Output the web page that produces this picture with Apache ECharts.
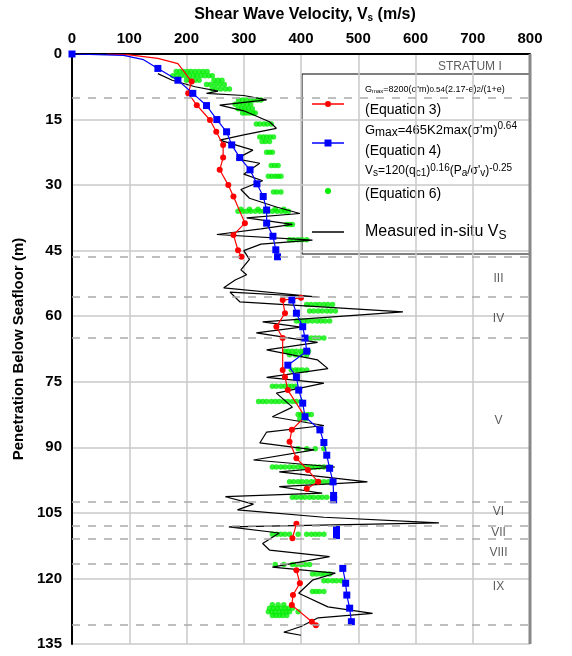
<!DOCTYPE html>
<html>
<head>
<meta charset="utf-8">
<script src="https://cdn.jsdelivr.net/npm/echarts@6/dist/echarts.min.js"></script>
<style>
  html, body { margin: 0; padding: 0; background: #fff; }
  #chart { width: 572px; height: 656px; }
</style>
</head>
<body>
<div id="chart"></div>
<script>
(function() {
  // measured in-situ Vs [velocity, depth]
  var measured = [
    [150,4.5],[175,6],[215,7.5],[255,8.5],[235,9],[300,9.5],[340,10.5],[258,11.7],[300,13],[345,15.5],
    [357,17],[300,18.5],[258,19.7],[316,22],[287,24],[328,25],[300,27.5],[333,29],[295,31],[310,33],
    [357,35],[398,36.5],[305,37.5],[385,39],[330,40],[253,41.3],[420,42.6],[330,43.5],[300,45],[310,47],
    [295,49.4],[305,50.5],[285,51.7],[265,53.5],[430,55.6],[276,54.5],[293,56.7],[578,59],[333,61.3],[400,62.5],
    [322,63.8],[429,66],[340,67.7],[429,70],[447,72],[340,74],[440,75.3],[357,77.6],[385,80.8],[350,83],
    [440,85],[340,86.5],[328,89],[423,90.6],[317,92.9],[459,94.5],[362,95.6],[516,97.9],[362,99],[437,100.5],
    [268,101.3],[317,103],[289,104.3],[440,106],[641,107.3],[274,108.2],[362,109.6],[333,112],[345,113.5],[450,115],
    [350,117.4],[460,118.8],[420,120.4],[396,123.4],[447,126.5],[525,128],[430,129],[400,131],[370,132.3],[400,133]
  ];
  // Equation 3 (red); entries without marker are plain curve points
  var eq3Curve = [[60,0],[100,0.2],[150,1],[185,2.2]];
  var eq3 = [
    [209,6.3],[203,9],[218,11.7],[241,15.1],[252,17.8],[264,20.8],
    [264,23.7],[258,26.5],[273,30],[282,32.6],[302,38.7],[282,41.4],[290,44.9],[296,46.4],'-',
    [400,55.8],[368,56.3],[372,59.3],[357,62.4],[368,65],[368,72.3],[372,73.9],[377,76.9],[407,83],[384,86],
    [380,88.7],[392,92.5],[412,95.2],[430,97.9],[410,99.5],'-',
    [392,107.5],[385,110.8],'-',
    [392,118.1],[398,121.1],[386,123.8],[384,126.1],[419,129.9],[426,130.7]
  ];
  // Equation 4 (blue)
  var eq4Curve = [[90,0.3],[125,1.3]];
  var eq4 = [
    [150,3.3],[185,6],[211,9],[235,11.8],[253,15],[270,17.8],[279,20.8],
    [293,23.7],[311,26.5],[323,29.7],[334,32.6],[340,35.7],[340,38.7],[351,41.7],[356,44.8],[359,46.4],'-',
    [384,56.3],[392,59.3],[403,62.4],[407,65],[410,68],[377,71.2],[392,73.9],[396,76.9],[403,79.9],[407,83],
    [433,86],[440,88.9],[445,91.8],[450,94.8],[456,97.9],[457,101],[457,102],'-',
    [462,108.8],[462,110.2],'-',
    [473,117.7],[478,121.1],[480,123.8],[485,126.8],[488,129.9]
  ];
  // Equation 6 (green) rows: [depth, velocities]
  var eq6Rows = [
    [4,[182,188,195,202,208,215,222,229,236]],[5,[176,183,190,198,205,212,218,225,232,239,245]],
    [6,[200,207,215,222,248,255,262]],[7,[235,242,250,258,266]],[8,[245,252,260,268,275]],
    [10.5,[291,298,305,312,318,324,330]],[11.5,[285,292,299,306,312]],[12.5,[290,296,302,308,315]],[13.5,[298,304,310,316,320]],
    [16,[322,328,335,341,348]],[19,[328,334,340,346,352]],[20,[332,338,345]],[22.5,[340,345,350]],[25.5,[348,354,360]],
    [28,[343,349,355,360,365]],[31.6,[352,358,365]],[35.5,[295,310,325,340,355,370]],[36,[290,298,305,312,320,328,335,342,350,358,365,372,378]],
    [39,[375,380,385]],[42.5,[380,387,395,402,410]],
    [57.3,[410,417,425,432,440,447,455]],[58.8,[415,422,430,437,445,452,460]],[61.1,[392,398,405,412,420,428,435,442,450]],[65,[410,418,425,432,440]],
    [68,[372,378,385,392,400,406,413]],[68.8,[380,390,400,410]],[72.3,[383,390,395,402,410]],[76,[350,357,365,372,378,384,390]],
    [79.5,[326,333,340,348,355,362,370,377,385,392,400]],[82.5,[395,400,405,412,418]],[83.5,[398,408]],
    [90.3,[395,410,425,440]],[94.5,[350,357,365,372,380,387,395,402,410,418,425,432,440,450]],
    [97.9,[380,387,395,402,410,418,425,432,440,448,455]],[101.4,[385,392,400,407,415,422,430,437,445,455]],
    [109.9,[350,358,365,372,380,395,410,418,425,432,440]],
    [116.8,[355,370,385,392,400,407,415]],[119,[420,427,435,442,450]],[120.5,[440,447,455,462,470]],[123,[420,426,432,440]],
    [126,[350,360,370]],[126.8,[345,352,358,365,372,378,385]],[127.6,[343,349,355,362,368,374,380,395]],[128.5,[350,356,362,368,375]]
  ];
  var boundaries = [10, 46.5, 55.5, 65, 102.5, 108, 111, 116.7, 130.7];
  var strata = [['STRATUM I',695,3],['III',745,51.5],['IV',745,60.5],['V',745,84],['VI',745,104.8],
    ['VII',745,109.6],['VIII',745,114],['IX',745,122]];

  var eq6 = [];
  eq6Rows.forEach(function(r) { r[1].forEach(function(v) { eq6.push([v, r[0]]); }); });
  function plain(p) { return { value: p, symbol: 'none' }; }
  var eq3Data = eq3Curve.map(plain).concat(eq3);
  var eq4Data = [[0,0]].concat(eq4Curve.map(plain), eq4);

  var font = 'Liberation Sans, Arial, sans-serif';
  var chart = echarts.init(document.getElementById('chart'), null, { renderer: 'canvas' });
  chart.setOption({
    animation: false,
    textStyle: { fontFamily: font },
    title: {
      text: 'Shear Wave Velocity, V{s|s} (m/s)',
      left: 300, top: 2, textAlign: 'center',
      textStyle: { fontSize: 16, fontWeight: 'bold', color: '#000', fontFamily: font,
        rich: { s: { fontSize: 10, fontWeight: 'bold', verticalAlign: 'bottom', padding: [6, 0, 0, 0] } } }
    },
    grid: { left: 72, right: 42, top: 54, bottom: 12 },
    xAxis: {
      type: 'value', position: 'top', min: 0, max: 800, interval: 100,
      axisLine: { show: true, onZero: false, lineStyle: { color: '#000', width: 2 } },
      axisTick: { show: false },
      axisLabel: { color: '#000', fontSize: 15, fontWeight: 'bold', margin: 8 },
      splitLine: { lineStyle: { color: '#c8c8c8', width: 1.5 } }
    },
    yAxis: {
      type: 'value', inverse: true, min: 0, max: 135, interval: 15,
      name: 'Penetration Below Seafloor (m)', nameLocation: 'middle', nameGap: 40,
      nameTextStyle: { fontSize: 15, fontWeight: 'bold', color: '#000' },
      axisLine: { show: true, onZero: false, lineStyle: { color: '#000', width: 2 } },
      axisTick: { show: false },
      axisLabel: { color: '#000', fontSize: 15, fontWeight: 'bold', margin: 10 },
      splitLine: { lineStyle: { color: '#c8c8c8', width: 1.5 } }
    },
    graphic: [
      { type: 'line', shape: { x1: 530, y1: 54, x2: 530, y2: 644 }, style: { stroke: '#888', lineWidth: 3 }, z: 1 },
      { type: 'group', x: 302, y: 74, z: 100, children: [
        { type: 'rect', shape: { x: 0, y: 0, width: 228, height: 180 }, style: { fill: '#fff', stroke: '#000', lineWidth: 1 } },
        { type: 'line', shape: { x1: 10, y1: 30, x2: 42, y2: 30 }, style: { stroke: '#ff0000', lineWidth: 1.5 } },
        { type: 'circle', shape: { cx: 26, cy: 30, r: 3 }, style: { fill: '#ff0000' } },
        { type: 'text', x: 63, y: 16, style: { text: 'G{sb|max}=8200(σ\'m){sp|0.54}(2.17-e){sp|2}/(1+e)', fontSize: 9, fill: '#000', fontFamily: font, verticalAlign: 'middle',
          rich: { sb: { fontSize: 6, verticalAlign: 'bottom' }, sp: { fontSize: 8, verticalAlign: 'top' } } } },
        { type: 'text', x: 63, y: 36, style: { text: '(Equation 3)', fontSize: 14, fill: '#000', fontFamily: font, verticalAlign: 'middle' } },
        { type: 'line', shape: { x1: 10, y1: 69, x2: 42, y2: 69 }, style: { stroke: '#0000ff', lineWidth: 1.5 } },
        { type: 'rect', shape: { x: 22.5, y: 65.5, width: 7, height: 7 }, style: { fill: '#0000ff' } },
        { type: 'text', x: 63, y: 56, style: { text: 'G{sb|max}=465K2max(σ\'m){sp|0.64}', fontSize: 13, fill: '#000', fontFamily: font, verticalAlign: 'middle',
          rich: { sb: { fontSize: 12, verticalAlign: 'bottom', padding: [6, 0, 0, 0] }, sp: { fontSize: 10, verticalAlign: 'top' } } } },
        { type: 'text', x: 63, y: 77, style: { text: '(Equation 4)', fontSize: 14, fill: '#000', fontFamily: font, verticalAlign: 'middle' } },
        { type: 'circle', shape: { cx: 26, cy: 117, r: 3 }, style: { fill: '#00ee00' } },
        { type: 'text', x: 63, y: 97, style: { text: 'V{sb|s}=120(q{sb|c1}){sp|0.16}(P{sb|a}/σ\'{sb|v}){sp|-0.25}', fontSize: 12, fill: '#000', fontFamily: font, verticalAlign: 'middle',
          rich: { sb: { fontSize: 10, verticalAlign: 'bottom', padding: [5, 0, 0, 0] }, sp: { fontSize: 10, verticalAlign: 'top' } } } },
        { type: 'text', x: 63, y: 120, style: { text: '(Equation 6)', fontSize: 14, fill: '#000', fontFamily: font, verticalAlign: 'middle' } },
        { type: 'line', shape: { x1: 10, y1: 158, x2: 42, y2: 158 }, style: { stroke: '#000', lineWidth: 1.5 } },
        { type: 'text', x: 63, y: 158, style: { text: 'Measured in-situ V{sb|S}', fontSize: 16, fill: '#000', fontFamily: font, verticalAlign: 'middle',
          rich: { sb: { fontSize: 12, verticalAlign: 'bottom', padding: [8, 0, 0, 0] } } } }
      ] }
    ],
    series: [
      {
        type: 'line', name: 'Measured', data: measured, symbol: 'none', z: 3,
        lineStyle: { color: '#000', width: 1.2 },
        markLine: {
          silent: true, symbol: 'none', label: { show: false },
          lineStyle: { color: '#aaa', type: [8, 8], width: 1.5 },
          data: boundaries.map(function(d) { return { yAxis: d }; })
        }
      },
      {
        type: 'scatter', name: 'Equation 6', data: eq6, symbol: 'circle', symbolSize: 5.5, z: 2,
        itemStyle: { color: '#00ee00' }
      },
      {
        type: 'line', name: 'Equation 3', data: eq3Data, symbol: 'circle', symbolSize: 6, showAllSymbol: true,
        connectNulls: false, z: 4, lineStyle: { color: '#ff0000', width: 1.2 }, itemStyle: { color: '#ff0000' }
      },
      {
        type: 'line', name: 'Equation 4', data: eq4Data, symbol: 'rect', symbolSize: 7, showAllSymbol: true,
        connectNulls: false, z: 4, lineStyle: { color: '#0000ff', width: 1.2 }, itemStyle: { color: '#0000ff' }
      },
      {
        type: 'scatter', name: 'Strata', symbolSize: 0, silent: true, z: 5,
        data: strata.map(function(s) { return { name: s[0], value: [s[1], s[2]] }; }),
        label: { show: true, position: 'inside', formatter: '{b}', color: '#333', fontSize: 12, fontFamily: font }
      }
    ]
  });
})();
</script>
</body>
</html>
